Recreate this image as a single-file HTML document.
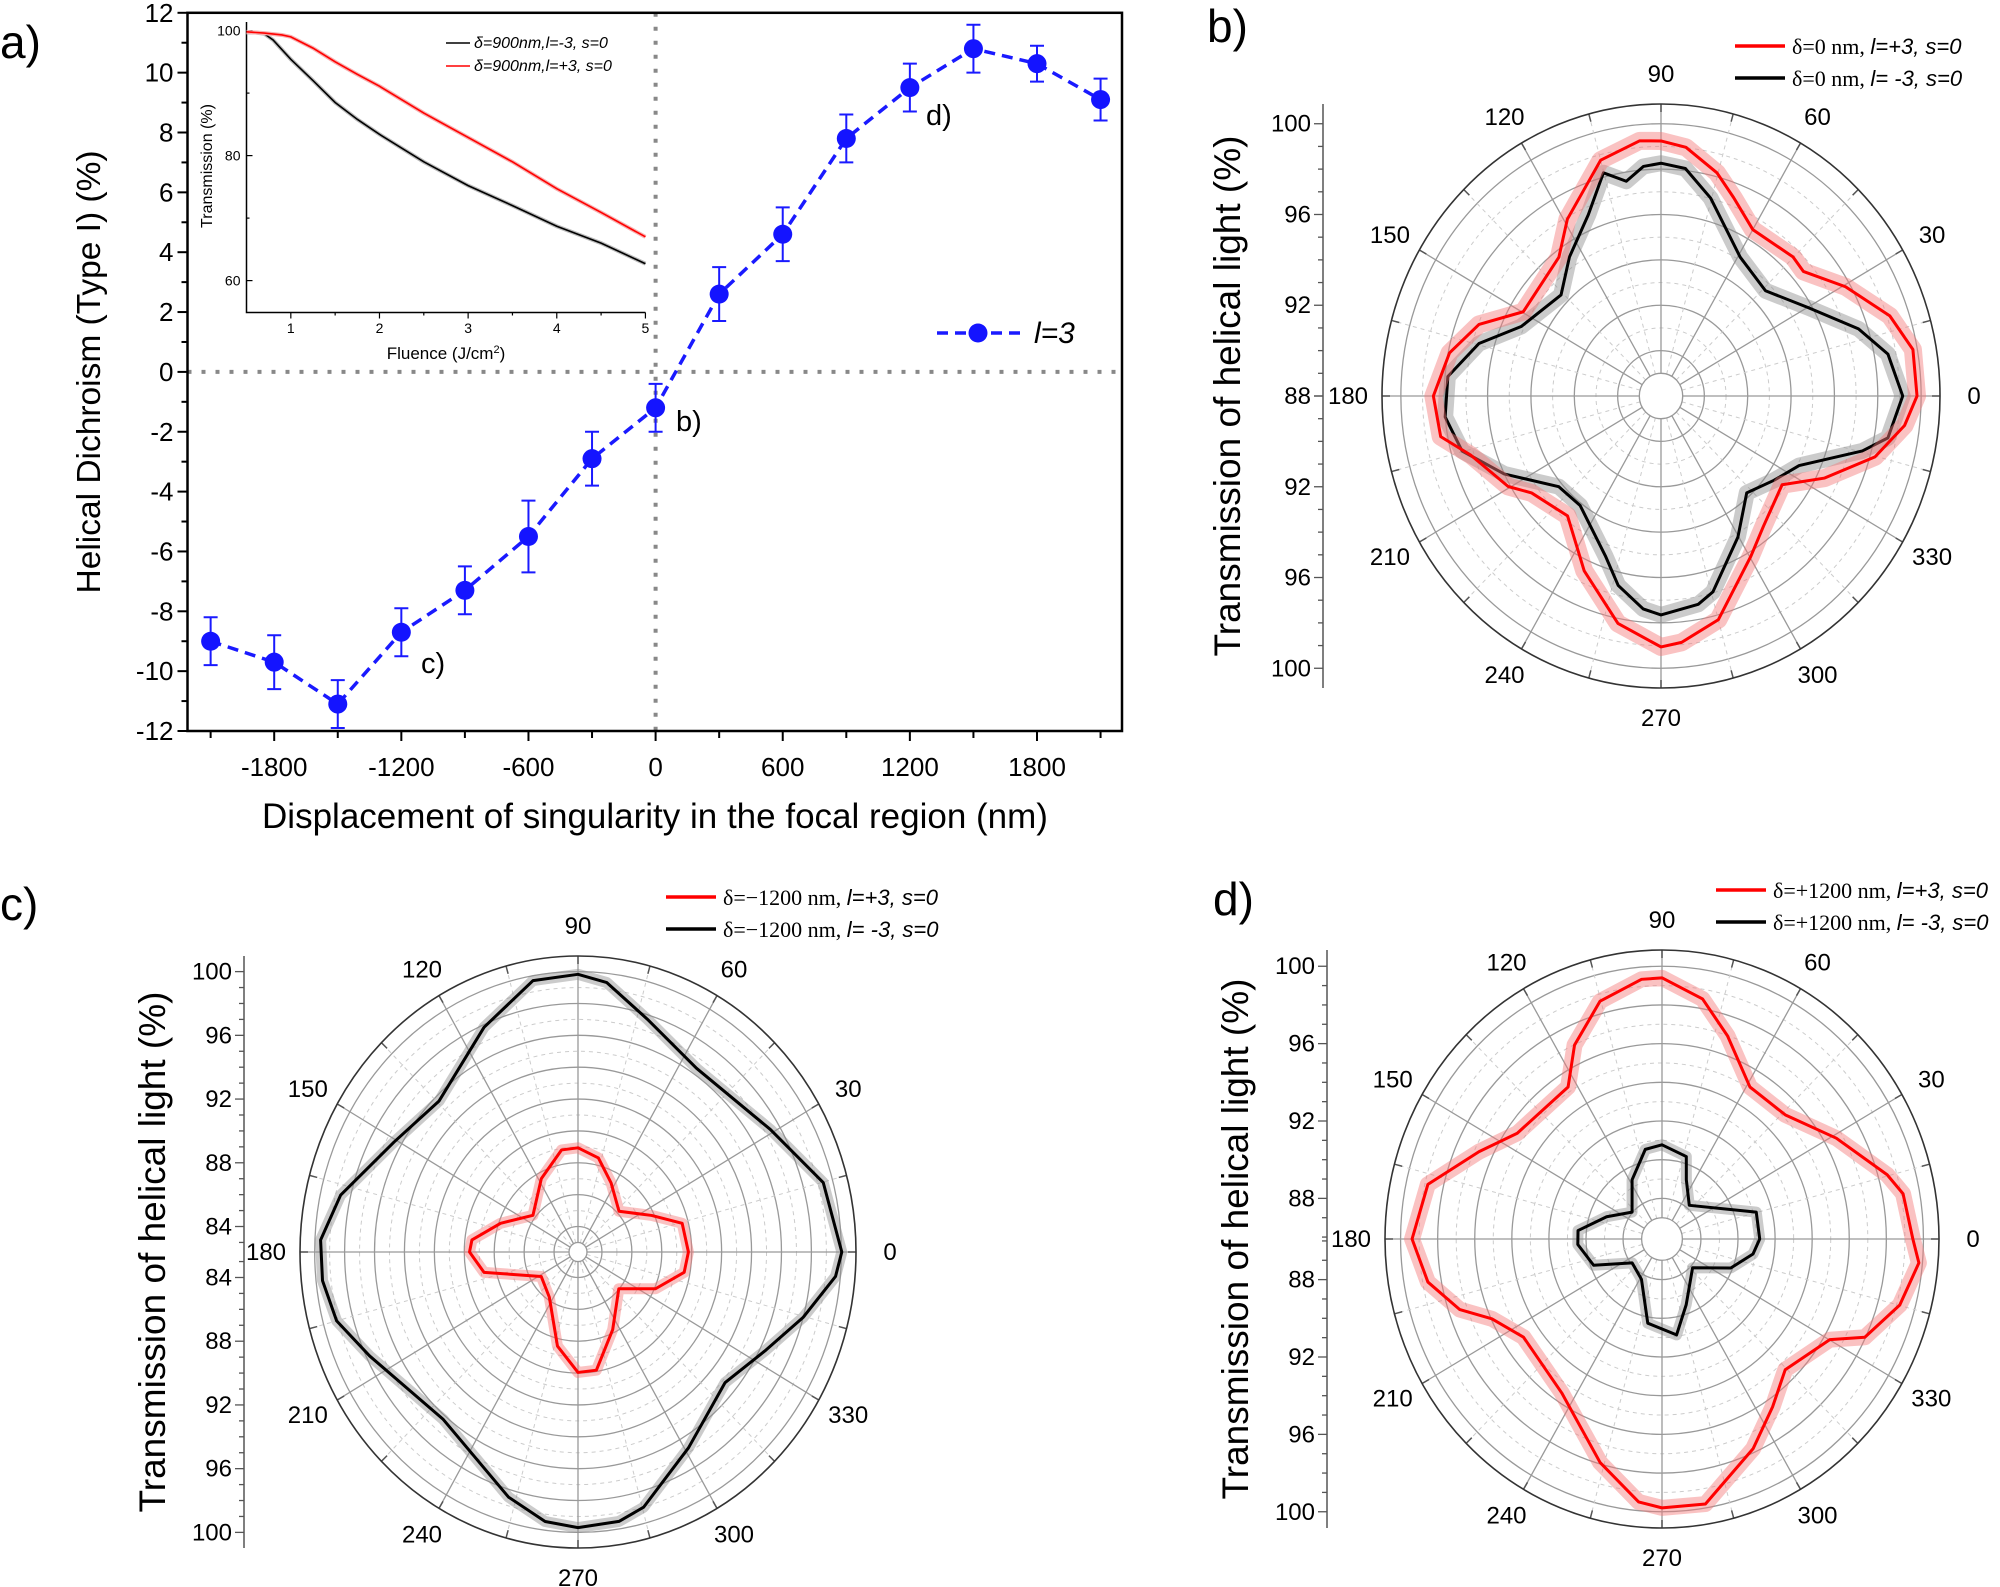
<!DOCTYPE html>
<html><head><meta charset="utf-8"><style>
html,body{margin:0;padding:0;background:#fff}
svg{display:block;font-family:"Liberation Sans",Arial,sans-serif}
</style></head><body>
<svg id="fig" xmlns="http://www.w3.org/2000/svg" width="2000" height="1587" viewBox="0 0 2000 1587">
<rect width="2000" height="1587" fill="#fff"/>
<g id="pa"></g>
<g id="pb"></g>
<g id="pc"></g>
<g id="pd"></g>
</svg>
<script>
// ---- Panel a data ----
const aDisp = [-2100,-1800,-1500,-1200,-900,-600,-300,0,300,600,900,1200,1500,1800,2100];
const aHD = [-9.0,-9.7,-11.1,-8.7,-7.3,-5.5,-2.9,-1.2,2.6,4.6,7.8,9.5,10.8,10.3,9.1];
const aErr = [0.8,0.9,0.8,0.8,0.8,1.2,0.9,0.8,0.9,0.9,0.8,0.8,0.8,0.6,0.7];
const aYTicks = [-12,-10,-8,-6,-4,-2,0,2,4,6,8,10,12];
const aXTicks = [-1800,-1200,-600,0,600,1200,1800];
// inset
const inXBlack = [0.5,0.6,0.7,0.8,1,1.25,1.5,1.75,2,2.5,3,3.5,4,4.5,5];
const inYBlack = [99.7,99.7,99.5,98.5,95.4,92,88.5,85.8,83.4,79,75.2,72,68.7,66,62.7];
const inXRed = [0.5,0.7,0.9,1,1.25,1.5,1.75,2,2.5,3,3.5,4,4.5,5];
const inYRed = [99.8,99.6,99.3,99,97.2,95,93,91.1,86.8,82.9,79,74.7,70.9,67];
const inXTicks = [1,2,3,4,5];
const inYTicks = [60,80,100];
// ---- Panel b ----
const bRedAng = [0,10,18.5,29.5,39.9,45.2,60,69,75.3,84,90,95,105,119,127.6,149.7,159.4,169,180,190,196.5,209.5,215.6,230.8,245.3,258.8,270,275,285,300.4,309.4,325,334.4,344.8,353.4];
const bRedVal = [99.81,99.80,99.13,97.78,96.56,96.64,96.47,97.36,98.17,99.02,99.24,99.29,98.76,96.91,95.72,95.36,96.97,97.94,98.50,98.32,97.16,96.10,95.34,94.82,96.48,98.22,99.06,98.90,98.21,96.19,95.44,94.82,96.37,98.23,99.31];
const bBlkAng = [0,10,18,30,43.9,59.2,75.3,83.6,90,94.6,99.6,105.1,112.8,124.6,136,154.6,164.6,175,185.3,194.8,205.4,220.3,232.3,250,256.7,265,270,280.6,285.5,299.7,312.8,324.5,334.3,345.4,350];
const bBlkVal = [99.15,98.63,97.58,95.81,94.69,95.13,97.02,98.09,98.26,98.15,97.60,98.19,96.66,95.44,94.41,95.14,96.71,97.87,98.00,97.49,96.01,94.18,94.10,95.50,96.58,97.42,97.65,97.34,96.96,95.16,93.82,94.40,95.07,97.60,98.63];
// ---- Panel c ----
const cBlkAng = [0,14.9,30.9,55.5,72.4,83.5,90,100,114,134.4,150.7,167.3,177.5,186,195,205.1,229.4,253.2,262.6,270,279.2,285.3,301,320.2,333.9,344.7,354.9];
const cBlkVal = [100.03,99.36,97.38,96.39,97.73,99.42,99.83,99.70,97.84,95.67,96.50,98.66,99.62,99.57,99.10,97.78,96.24,98.47,99.46,99.70,99.53,99.01,96.74,95.20,96.39,97.99,99.68];
const cRedAng = [0,14.5,25,43,63,77,90,99.7,118,142.6,160.8,173.9,180,191.5,212,235.9,256.9,270,279.4,295.5,319.8,336,349.8];
const cRedVal = [89.78,89.59,87.83,86.15,87.27,88.46,88.94,88.90,87.62,86.19,87.88,89.53,89.65,88.81,85.30,85.82,88.46,89.96,89.92,87.79,85.97,88.07,89.61];
// ---- Panel d ----
const dRedAng = [0,10.2,15.3,29,44,58.9,71.4,80,90,94.7,105.2,115.2,122.8,145,155.4,167.4,180,190,198.5,204.2,214.2,235.8,253.9,264.7,270,279.7,294.4,304.5,314.5,330.1,335.1,345.1,354.9];
const dRedVal = [99.43,99.11,98.49,96.65,95.14,95.08,96.98,98.50,99.40,99.37,98.64,96.98,95.25,95.43,96.75,98.84,99.38,98.72,97.40,95.96,94.93,95.52,97.93,99.55,99.80,99.80,97.80,96.43,95.38,96.34,97.96,99.17,99.81];
const dBlkAng = [0,15.3,21.2,49.8,66.8,72.9,90,101,117.8,139.3,158.9,174.5,183.6,200.2,217.5,242,260,279,291,318,338,351];
const dBlkVal = [91.17,91.17,90.07,88.18,89.23,90.36,90.77,90.62,89.36,88.03,89.10,90.45,90.45,89.83,87.93,88.26,90.32,90.92,89.54,88.12,89.90,90.87];
const polarAngles = [0,30,60,90,120,150,180,210,240,270,300,330];

const NS='http://www.w3.org/2000/svg';
function el(parent,tag,attrs,text){const e=document.createElementNS(NS,tag);for(const k in attrs)e.setAttribute(k,attrs[k]);if(text!==undefined)e.textContent=text;parent.appendChild(e);return e;}

// ================= Panel A =================
(function(){
const g=document.getElementById('pa');
const L=187.5,R=1122,T=12.8,B=731;
const xS=v=>655.6+v*(1037-274.2)/3600;
const yS=v=>T+(12-v)*(B-T)/24;
let t=el(g,'text',{x:0,y:58,'font-size':46},'a)');

let z1=el(g,'line',{x1:L,x2:R,y1:yS(0),y2:yS(0),stroke:'#888','stroke-width':4,'stroke-dasharray':'4 10'});

let z2=el(g,'line',{x1:xS(0),x2:xS(0),y1:T,y2:B,stroke:'#888','stroke-width':4,'stroke-dasharray':'4 10'});

let fr=el(g,'rect',{x:L,y:T,width:R-L,height:B-T,fill:'none',stroke:'#000','stroke-width':2.5});

for(let v=-12;v<=12;v++){const y=yS(v);const maj=v%2===0;
 let tk=el(g,'line',{x1:L-(maj?10:6),x2:L,y1:y,y2:y,stroke:'#000','stroke-width':2});
 }
aYTicks.forEach(v=>{let tl=el(g,'text',{x:L-14,y:yS(v)+9,'font-size':26,'text-anchor':'end'},String(v));
 });
for(let v=-2100;v<=2100;v+=300){const x=xS(v);const maj=aXTicks.includes(v);
 let tk=el(g,'line',{x1:x,x2:x,y1:B,y2:B+(maj?10:7),stroke:'#000','stroke-width':2});
 }
aXTicks.forEach(v=>{let tl=el(g,'text',{x:xS(v),y:776,'font-size':26,'text-anchor':'middle'},String(v));
 });
let xt=el(g,'text',{x:655,y:828,'font-size':35,'text-anchor':'middle'},'Displacement of singularity in the focal region (nm)');

let yt=el(g,'text',{x:0,y:0,'font-size':33.5,'text-anchor':'middle',transform:'translate(100,372) rotate(-90)'},'Helical Dichroism (Type I) (%)');

const pts=aDisp.map((d,i)=>xS(d)+','+yS(aHD[i])).join(' ');
let pl=el(g,'polyline',{points:pts,fill:'none',stroke:'#1a1aff','stroke-width':3.5,'stroke-dasharray':'11 7'});

aDisp.forEach((d,i)=>{const x=xS(d),y=yS(aHD[i]),y1=yS(aHD[i]+aErr[i]),y2=yS(aHD[i]-aErr[i]);
 let eb=el(g,'path',{d:`M${x},${y1}V${y2}M${x-7},${y1}H${x+7}M${x-7},${y2}H${x+7}`,stroke:'#1a1aff','stroke-width':2,fill:'none'});
 
 let c=el(g,'circle',{cx:x,cy:y,r:9.5,fill:'#1414ff'});
 });
[['b)',676,431],['c)',421,673],['d)',926,125]].forEach(a=>{let an=el(g,'text',{x:a[1],y:a[2],'font-size':29},a[0]);
 });
let lg=el(g,'line',{x1:937,x2:1020,y1:333,y2:333,stroke:'#1a1aff','stroke-width':3.5,'stroke-dasharray':'11 7'});

let lm=el(g,'circle',{cx:978,cy:333,r:9.5,fill:'#1414ff'});

let lt=el(g,'text',{x:1034,y:343,'font-size':30,'font-style':'italic'},'l=3');

// ---- inset ----
const iL=246.5,iB=312.5,iTop=22;
const ix=v=>246.5+(v-0.5)*88.65;
const iy=v=>280.6-(v-60)*6.25;
let ia=el(g,'path',{d:`M${iL},${iTop}V${iB}H${ix(5)}`,fill:'none',stroke:'#000','stroke-width':1.5});

for(let v=1;v<=5;v+=0.5){const x=ix(v);let tk=el(g,'line',{x1:x,x2:x,y1:iB,y2:iB+(v%1===0?6:3),stroke:'#000','stroke-width':1.2});
 }
inXTicks.forEach(v=>{let tl=el(g,'text',{x:ix(v),y:333,'font-size':14,'text-anchor':'middle'},String(v));
 });
for(let v=60;v<=100;v+=10){const y=iy(v);let tk=el(g,'line',{x1:iL,x2:iL+(v%20===0?6:3),y1:y,y2:y,stroke:'#000','stroke-width':1.2});
 }
inYTicks.forEach(v=>{let tl=el(g,'text',{x:iL-6,y:iy(v)+5,'font-size':14,'text-anchor':'end'},String(v));
 });
let ixt=el(g,'text',{x:446,y:359,'font-size':17,'text-anchor':'middle'});

ixt.innerHTML='Fluence (J/cm<tspan dy="-6" font-size="11">2</tspan><tspan dy="6">)</tspan>';
let iyt=el(g,'text',{x:0,y:0,'font-size':16,'text-anchor':'middle',transform:'translate(212,166) rotate(-90)'},'Transmission (%)');

const bp=inXBlack.map((x,i)=>ix(x)+','+iy(inYBlack[i])).join(' ');
const rp=inXRed.map((x,i)=>ix(x)+','+iy(inYRed[i])).join(' ');
let ibb=el(g,'polyline',{points:bp,fill:'none',stroke:'#bbb','stroke-width':4});

let ib=el(g,'polyline',{points:bp,fill:'none',stroke:'#000','stroke-width':1.6});

let irb=el(g,'polyline',{points:rp,fill:'none',stroke:'#f7b0b0','stroke-width':4});

let ir=el(g,'polyline',{points:rp,fill:'none',stroke:'#ff0000','stroke-width':1.6});

[['#000',43,'δ=900nm,l=-3, s=0'],['#ff0000',66,'δ=900nm,l=+3, s=0']].forEach((e,k)=>{
 let ll=el(g,'line',{x1:446,x2:470,y1:e[1],y2:e[1],stroke:e[0],'stroke-width':1.6});
 
 let lt2=el(g,'text',{x:474,y:e[1]+5,'font-size':16,'font-style':'italic'},e[2]);
 });
})();

// ================= Polar panels =================
function polar(gid,o){
 const g=document.getElementById(gid);
 const f=v=>(v-o.v0)/(o.v1-o.v0);
 const P=(a,v)=>{const r=a*Math.PI/180,q=f(v);return [o.cx+q*o.rx*Math.cos(r),o.cy-q*o.ry*Math.sin(r)];};
 let pl=el(g,'text',{x:o.lab[0],y:o.lab[1],'font-size':46},o.labText);
 
 for(let v=Math.ceil(o.v0+0.01);v<=100;v++){const q=f(v);
  let rg=el(g,'ellipse',{cx:o.cx,cy:o.cy,rx:q*o.rx,ry:q*o.ry,fill:'none',stroke:v%2===0?'#999':'#ccc','stroke-width':v%2===0?1.3:1,'stroke-dasharray':v%2===0?'':'4 4'});
  }
 const qh=f(o.hole);
 for(let a=0;a<360;a+=15){const r=a*Math.PI/180;const c=Math.cos(r),s=Math.sin(r);
  let sp=el(g,'line',{x1:o.cx+qh*o.rx*c,y1:o.cy-qh*o.ry*s,x2:o.cx+o.rx*c,y2:o.cy-o.ry*s,stroke:a%30===0?'#999':'#ccc','stroke-width':a%30===0?1.3:1,'stroke-dasharray':a%30===0?'':'4 4'});
  
  let tk=el(g,'line',{x1:o.cx+o.rx*c,y1:o.cy-o.ry*s,x2:o.cx+(o.rx-8)*c,y2:o.cy-(o.ry-8)*s,stroke:'#555','stroke-width':1.5});
  }
 let ho=el(g,'ellipse',{cx:o.cx,cy:o.cy,rx:qh*o.rx,ry:qh*o.ry,fill:'#fff',stroke:'#999','stroke-width':1.3});
 
 let ou=el(g,'ellipse',{cx:o.cx,cy:o.cy,rx:o.rx,ry:o.ry,fill:'none',stroke:'#333','stroke-width':1.6});
 
 polarAngles.forEach(a=>{const r=a*Math.PI/180;
  let al=el(g,'text',{x:o.cx+(o.rx+34)*Math.cos(r),y:o.cy-(o.ry+30)*Math.sin(r)+8,'font-size':24,'text-anchor':'middle'},String(a));
  });
 o.series.forEach(s=>{
  const pts=s.ang.map((a,i)=>P(a,s.val[i]).join(',')).join(' ');
  let band=el(g,'polygon',{points:pts,fill:'none',stroke:s.band,'stroke-width':s.bw,'stroke-linejoin':'round'});
  
  let ln=el(g,'polygon',{points:pts,fill:'none',stroke:s.color,'stroke-width':3,'stroke-linejoin':'round'});
  
 });
 const ax=o.axX;
 let al2=el(g,'line',{x1:ax,x2:ax,y1:o.cy-o.ry,y2:o.cy+o.ry,stroke:'#555','stroke-width':1.5});
 
 for(let v=Math.ceil(o.v0);v<=o.v1;v++){const q=f(v);[-1,1].forEach(sg=>{const y=o.cy+sg*q*o.ry;
  let tk=el(g,'line',{x1:ax-(v%4===0?9:5),x2:ax,y1:y,y2:y,stroke:'#555','stroke-width':1.3});
  });}
 o.rLabels.forEach(v=>{const q=f(v);[-1,1].forEach(sg=>{
  let tl=el(g,'text',{x:ax-12,y:o.cy+sg*q*o.ry+8,'font-size':24,'text-anchor':'end'},String(v));
  });});
 if(o.centerLabel){let cl=el(g,'text',{x:ax-12,y:o.cy+8,'font-size':24,'text-anchor':'end'},o.centerLabel);
  }
 let yt=el(g,'text',{x:0,y:0,'font-size':37,'text-anchor':'middle',transform:`translate(${o.titleX},${o.cy}) rotate(-90)`},'Transmission of helical light (%)');
 
 o.legend.forEach(l=>{
  let ll=el(g,'line',{x1:o.legX,x2:o.legX+50,y1:l.y,y2:l.y,stroke:l.color,'stroke-width':3.5});
  
  let lt=el(g,'text',{x:o.legX+57,y:l.y+8,'font-size':22});
  
  lt.innerHTML=`<tspan font-family="Liberation Serif, serif">${l.d}</tspan><tspan font-style="italic">${l.t}</tspan>`;
 });
}
polar('pb',{cx:1661,cy:396,rx:279,ry:292,v0:88,v1:100.87,hole:89,axX:1323,titleX:1240,rLabels:[92,96,100],centerLabel:'88',
 lab:[1207,42],labText:'b)',legX:1735,
 legend:[{y:46,color:'#ff0000',d:'δ=0 nm, ',t:'l=+3, s=0'},{y:78,color:'#000',d:'δ=0 nm, ',t:'l= -3, s=0'}],
 series:[{name:'b-black',ang:bBlkAng,val:bBlkVal,color:'#000',band:'rgba(140,140,140,0.45)',bw:16},
         {name:'b-red',ang:bRedAng,val:bRedVal,color:'#ff0000',band:'rgba(245,120,120,0.45)',bw:18}]});
polar('pc',{cx:578,cy:1252,rx:278,ry:296,v0:82.4,v1:100.98,hole:83,axX:244,titleX:165,rLabels:[84,88,92,96,100],centerLabel:'',
 lab:[0,920],labText:'c)',legX:666,
 legend:[{y:897,color:'#ff0000',d:'δ=−1200 nm, ',t:'l=+3, s=0'},{y:929,color:'#000',d:'δ=−1200 nm, ',t:'l= -3, s=0'}],
 series:[{name:'c-black',ang:cBlkAng,val:cBlkVal,color:'#000',band:'rgba(140,140,140,0.45)',bw:11},
         {name:'c-red',ang:cRedAng,val:cRedVal,color:'#ff0000',band:'rgba(245,120,120,0.45)',bw:11}]});
polar('pd',{cx:1662,cy:1239,rx:277,ry:289,v0:85.9,v1:100.84,hole:87,axX:1327,titleX:1248,rLabels:[88,92,96,100],centerLabel:'',
 lab:[1213,915],labText:'d)',legX:1716,
 legend:[{y:890,color:'#ff0000',d:'δ=+1200 nm, ',t:'l=+3, s=0'},{y:922,color:'#000',d:'δ=+1200 nm, ',t:'l= -3, s=0'}],
 series:[{name:'d-black',ang:dBlkAng,val:dBlkVal,color:'#000',band:'rgba(140,140,140,0.45)',bw:11},
         {name:'d-red',ang:dRedAng,val:dRedVal,color:'#ff0000',band:'rgba(245,120,120,0.45)',bw:16}]});
</script>
</body></html>
